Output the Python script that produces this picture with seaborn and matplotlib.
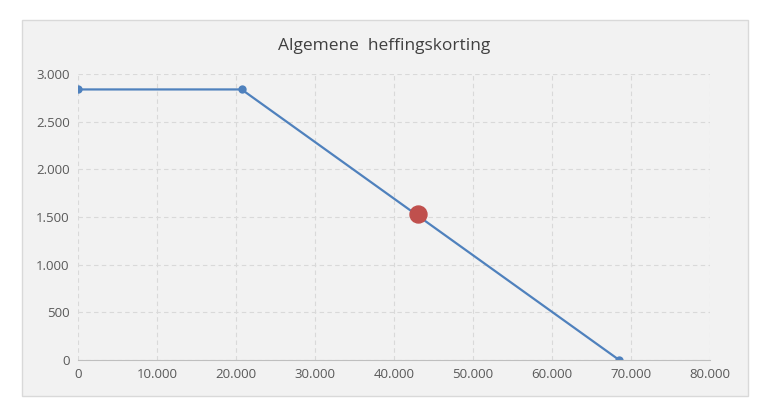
import matplotlib
matplotlib.use("Agg")
import matplotlib.pyplot as plt
import seaborn as sns
import pandas as pd
from matplotlib.ticker import FuncFormatter, MultipleLocator
from matplotlib.patches import Rectangle

income = [0, 20711, 68507]
korting = [2838, 2838, 0]
marker_x = [43000]
marker_y = [1530]

sns.set_style("white")
plt.rcParams['font.family'] = ['Open Sans', 'DejaVu Sans']

fig = plt.figure(figsize=(7.68, 4.19), dpi=100)
fig.patch.set_facecolor("white")
bg = fig.add_axes([0, 0, 1, 1], zorder=0)
bg.axis("off")
bg.set_xlim(0, 1); bg.set_ylim(0, 1)
bg.add_patch(Rectangle((22/768, 23/419), 726/768, 376/419,
                       facecolor="#f2f2f2", edgecolor="#d9d9d9", lw=1))
ax = fig.add_axes([78/768, 59/419, 632/768, 286/419], zorder=1)
ax.patch.set_alpha(0)

df = pd.DataFrame({"x": income, "y": korting})
sns.lineplot(data=df, x="x", y="y", ax=ax, color="#4f81bd", lw=1.6, marker="o",
             markersize=6, markeredgewidth=0)
sns.scatterplot(x=marker_x, y=marker_y, ax=ax, color="#c0504d", s=150, edgecolor="#c0504d", zorder=5)

ax.set_xlim(0, 80000)
ax.set_ylim(0, 3000)
ax.xaxis.set_major_locator(MultipleLocator(10000))
ax.yaxis.set_major_locator(MultipleLocator(500))
fmt = FuncFormatter(lambda v, p: f"{int(v):,}".replace(",", "."))
ax.xaxis.set_major_formatter(fmt)
ax.yaxis.set_major_formatter(fmt)
ax.grid(True, color="#d9d9d9", ls=(0, (4, 3)), lw=0.8)
for s in ["top", "right", "left"]:
    ax.spines[s].set_visible(False)
ax.spines["bottom"].set_color("#bfbfbf")
ax.tick_params(axis="both", labelsize=9.5, colors="#595959", length=0, pad=6)
ax.set_xlabel("")
ax.set_ylabel("")
fig.text(0.5, 1 - 46/419, "Algemene  heffingskorting", ha="center", va="center",
         fontsize=12.5, color="#404040")
fig.savefig("out.png", dpi=100)
